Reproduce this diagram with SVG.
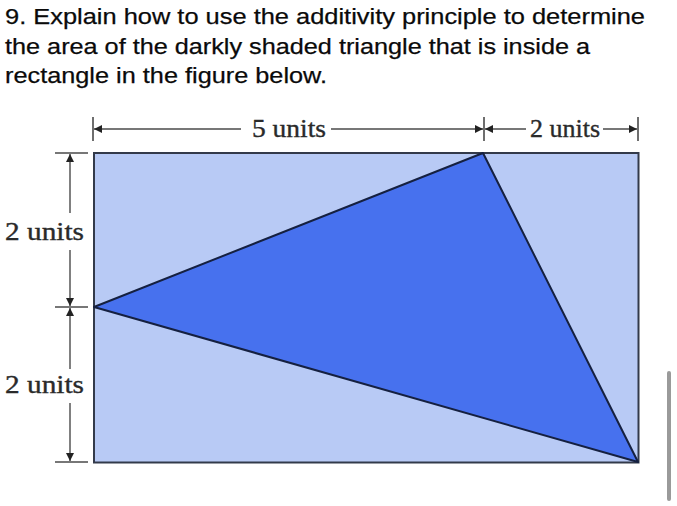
<svg xmlns="http://www.w3.org/2000/svg" width="677" height="506" viewBox="0 0 677 506">
<style>
.q{font-family:"Liberation Sans",Arial,sans-serif;font-size:22.5px;fill:#0a0a0a;stroke:#0a0a0a;stroke-width:0.25}
.lbl{font-family:"Liberation Serif","Times New Roman",serif;font-size:25px;fill:#2a2a2a;stroke:#2a2a2a;stroke-width:0.35}
.dim{stroke:#4a4a4a;stroke-width:1.4;fill:none}
.tick{stroke:#4a4a4a;stroke-width:1.6}
</style>
<defs>
<marker id="arr" viewBox="0 0 10 10" refX="10" refY="5" markerWidth="14" markerHeight="8" markerUnits="userSpaceOnUse" orient="auto-start-reverse">
<path d="M0,0 L10,5 L0,10 z" fill="#222"/>
</marker>
</defs>
<rect width="677" height="506" fill="#fff"/>
<g id="question">
<text class="q" x="5" y="23.5" textLength="640" lengthAdjust="spacingAndGlyphs">9. Explain how to use the additivity principle to determine</text>
<text class="q" x="5" y="53.5" textLength="585" lengthAdjust="spacingAndGlyphs">the area of the darkly shaded triangle that is inside a</text>
<text class="q" x="5" y="82.5" textLength="322" lengthAdjust="spacingAndGlyphs">rectangle in the figure below.</text>
</g>
<g id="rectangle">
<rect x="94" y="153" width="544.5" height="309.5" fill="#b8caf5" stroke="#333a4a" stroke-width="2"/>
</g>
<g id="triangle">
<polygon points="94,307 483,153 638,462" fill="#4771ee" stroke="#152040" stroke-width="2" stroke-linejoin="round"/>
</g>
<g id="connectors">
<line class="tick" x1="93" y1="117" x2="93" y2="141"/>
<line class="tick" x1="484" y1="117" x2="484" y2="141"/>
<line class="tick" x1="638" y1="117" x2="638" y2="141"/>
<line class="dim" x1="94" y1="129" x2="241" y2="129" marker-start="url(#arr)"/>
<line class="dim" x1="331" y1="129" x2="483" y2="129" marker-end="url(#arr)"/>
<line class="dim" x1="485" y1="129" x2="526" y2="129" marker-start="url(#arr)"/>
<line class="dim" x1="603" y1="129" x2="637" y2="129" marker-end="url(#arr)"/>
<line class="tick" x1="55" y1="153" x2="88" y2="153"/>
<line class="tick" x1="55" y1="307" x2="88" y2="307"/>
<line class="tick" x1="55" y1="462" x2="88" y2="462"/>
<line class="dim" x1="70" y1="154" x2="70" y2="213" marker-start="url(#arr)"/>
<line class="dim" x1="70" y1="250" x2="70" y2="306" marker-end="url(#arr)"/>
<line class="dim" x1="70" y1="308" x2="70" y2="369" marker-start="url(#arr)"/>
<line class="dim" x1="70" y1="403" x2="70" y2="461" marker-end="url(#arr)"/>
</g>
<g id="labels">
<text class="lbl" x="252" y="137" textLength="74" lengthAdjust="spacingAndGlyphs">5 units</text>
<text class="lbl" x="530" y="137" textLength="70" lengthAdjust="spacingAndGlyphs">2 units</text>
<text class="lbl" x="5" y="240" textLength="79" lengthAdjust="spacingAndGlyphs">2 units</text>
<text class="lbl" x="5" y="393" textLength="79" lengthAdjust="spacingAndGlyphs">2 units</text>
</g>
<g id="scrollbar">
<line x1="669" y1="373" x2="669" y2="499" stroke="#9a9a9a" stroke-width="4" stroke-linecap="round"/>
</g>
</svg>
